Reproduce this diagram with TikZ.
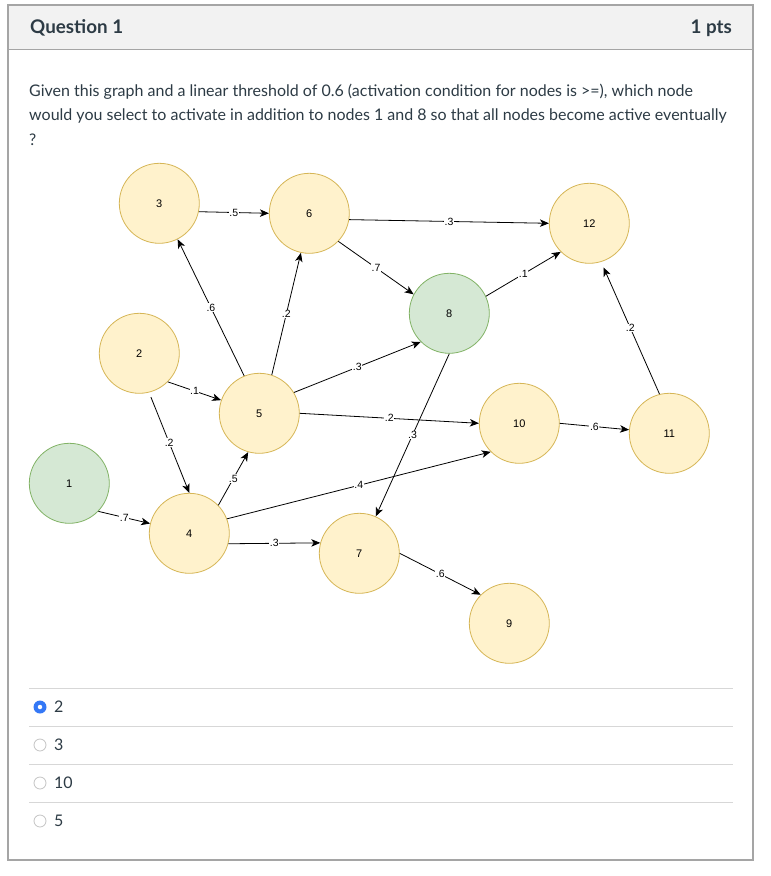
\documentclass[tikz,border=0pt]{standalone}
\usepackage{fontspec}
\setmainfont{Lato}
\newfontfamily\graphfont{Liberation Sans}
\usetikzlibrary{arrows.meta,calc}
\definecolor{txt}{HTML}{2D3B45}
\definecolor{bordr}{HTML}{A5A5A5}
\definecolor{hdr}{HTML}{F2F2F2}
\definecolor{yfill}{HTML}{FFF2CC}
\definecolor{ydraw}{HTML}{D6B656}
\definecolor{gfill}{HTML}{D5E8D4}
\definecolor{gdraw}{HTML}{82B366}
\definecolor{sep}{HTML}{D7D7D7}
\definecolor{radioblue}{HTML}{3478F6}
\definecolor{radiogray}{HTML}{C4C4C4}
\begin{document}
\begin{tikzpicture}[x=1pt,y=-1pt,
  ynode/.style={circle, draw=ydraw, fill=yfill, minimum size=80pt, inner sep=0pt,
    font=\graphfont\fontsize{11}{13}\selectfont, line width=0.8pt},
  gnode/.style={ynode, draw=gdraw, fill=gfill},
  edge/.style={-{Stealth[length=9pt,width=7.5pt,inset=2.5pt]}, line width=0.8pt, black},
  elab/.style={fill=white, inner sep=0.6pt, font=\graphfont\fontsize{10.5}{12}\selectfont},
  bodytext/.style={anchor=base west, inner sep=0pt, text=txt, font=\fontsize{16}{19}\selectfont},
  hdrtext/.style={inner sep=0pt, text=txt, font=\bfseries\fontsize{18.8}{22}\selectfont},
  radiooff/.style={circle, draw=radiogray, fill=white, line width=0.8pt, minimum size=12pt, inner sep=0pt},
  radioon/.style={circle, fill=radioblue, minimum size=13pt, inner sep=0pt},
  sepline/.style={draw=sep, line width=1pt}
]
\useasboundingbox (0,0) rectangle (771,876);
\fill[white] (0,0) rectangle (771,876);
% frame and header
\draw[bordr, fill=hdr, line width=1pt] (8,5) rectangle (753,49);
\draw[bordr, line width=1.2pt] (8,5) rectangle (753,860);
\node[hdrtext, anchor=base west] (qtitle) at (30,33) {Question 1};
\node[hdrtext, anchor=base east] (qpts) at (732,33) {1 pts};
% question text
\node[bodytext] (l1) at (29,96) {Given this graph and a linear threshold of 0.6 (activation condition for nodes is >=), which node};
\node[bodytext] (l2) at (29,120.5) {would you select to activate in addition to nodes 1 and 8 so that all nodes become active eventually};
\node[bodytext] (l3) at (29,145) {?};
% graph nodes
\node[gnode] (n1) at (69.3,483.3) {1};
\node[ynode] (n2) at (139.3,353.3) {2};
\node[ynode] (n3) at (159.3,203.3) {3};
\node[ynode] (n4) at (189.3,533.3) {4};
\node[ynode] (n5) at (259.3,413.3) {5};
\node[ynode] (n6) at (309.3,213.3) {6};
\node[ynode] (n7) at (359.3,553.3) {7};
\node[gnode] (n8) at (449.3,313.3) {8};
\node[ynode] (n9) at (509.3,623.3) {9};
\node[ynode] (n10) at (519.3,423.3) {10};
\node[ynode] (n11) at (669.3,433.3) {11};
\node[ynode] (n12) at (589.3,223.3) {12};
% edges
\draw[edge] (n3.-12.7) -- node[elab]{.5} (n6.180);
\draw[edge] (n6.-9.9) -- node[elab]{.3} (n12.180);
\draw[edge] (n6.-44.4) -- node[elab]{.7} (n8.152);
\draw[edge] (n8.25) -- node[elab]{.1} (n12.-135);
\draw[edge, shorten >=6pt] (n11.104) -- node[elab]{.2} (n12.-73);
\draw[edge] (n5.112.9) -- node[elab]{.6} (n3.-63.9);
\draw[edge] (n5.72) -- node[elab]{.2} (n6.-102);
\draw[edge] (n5.31) -- node[elab]{.3} (n8.-135);
\draw[edge] (n2.-45) -- node[elab]{.1} (n5.161.8);
\draw[edge, shorten <=5pt] (n2.-76) -- node[elab]{.2} (n4.90);
\draw[edge] (n4.44.3) -- node[elab]{.5} (n5.-106);
\draw[edge] (n1.-44.4) -- node[elab]{.7} (n4.166.7);
\draw[edge] (n4.-15) -- node[elab]{.3} (n7.165.6);
\draw[edge] (n4.21.5) -- node[elab]{.4} (n10.-135);
\draw[edge] (n5.0) -- node[elab]{.2} (n10.180);
\draw[edge] (n8.-90) -- node[elab]{.3} (n7.66.8);
\draw[edge] (n10.0) -- node[elab]{.6} (n11.175.3);
\draw[edge] (n7.0) -- node[elab]{.6} (n9.135);
% answers
\coordinate (sa) at (29,688); \coordinate (sb) at (733,688);
\draw[sepline] (sa) -- (sb);
\draw[sepline] ($(sa)+(0,38)$) -- ($(sb)+(0,38)$);
\draw[sepline] ($(sa)+(0,76)$) -- ($(sb)+(0,76)$);
\draw[sepline] ($(sa)+(0,114)$) -- ($(sb)+(0,114)$);
\node[radioon] (r1) at (40,707) {};
\node[circle, fill=white, minimum size=4.5pt, inner sep=0pt] (r1dot) at (r1) {};
\node[radiooff] (r2) at (40,745) {};
\node[radiooff] (r3) at (40,783) {};
\node[radiooff] (r4) at (40,821) {};
\node[bodytext] (a1) at (54,712.5) {2};
\node[bodytext] (a2) at (54,750.5) {3};
\node[bodytext] (a3) at (54,788.5) {10};
\node[bodytext] (a4) at (54,826.5) {5};
\end{tikzpicture}
\end{document}
